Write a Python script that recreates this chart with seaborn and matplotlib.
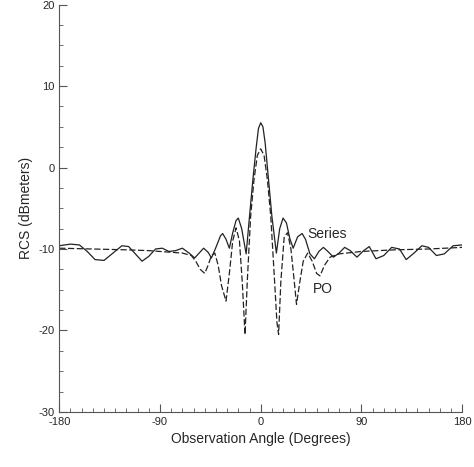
import numpy as np
import pandas as pd
import matplotlib
matplotlib.use("Agg")
import matplotlib.pyplot as plt
from matplotlib.ticker import MultipleLocator
import seaborn as sns

series_ang = [-180, -170, -162, -155, -148, -140, -132, -124, -118, -112, -106, -100, -94, -88,
              -82, -76, -70, -64, -59, -55, -51, -47, -44, -40, -36, -34, -31, -28, -25, -22,
              -20, -17, -13, -10, -7, -4, -2, 0, 2, 4, 7, 10, 14, 17, 20, 23, 26, 29, 33, 37,
              40, 44, 48, 52, 56, 60, 65, 70, 75, 80, 86, 92, 97, 103, 110, 117, 124, 130,
              137, 144, 150, 157, 164, 172, 180]
series_db = [-9.6, -9.4, -9.5, -10.3, -11.3, -11.4, -10.5, -9.6, -9.7, -10.6, -11.5, -10.9, -10.0, -9.9,
             -10.3, -10.2, -9.9, -10.5, -11.1, -10.5, -9.9, -10.4, -11.1, -9.8, -8.4, -8.1, -8.8, -9.9, -8.0, -6.5,
             -6.2, -7.5, -10.6, -6.0, -1.5, 2.5, 4.8, 5.5, 5.0, 3.0, -1.5, -6.0, -10.5, -7.5, -6.2, -6.8, -8.7, -9.9, -8.5, -8.1,
             -8.8, -10.6, -11.2, -10.3, -9.8, -10.3, -11.0, -10.5, -9.8, -10.2, -11.0, -10.2, -9.7, -11.2, -10.8, -9.8, -10.0, -11.3,
             -10.5, -9.6, -9.8, -10.8, -10.6, -9.6, -9.5]

po_ang = [-180, -150, -120, -100, -80, -70, -62, -58, -54, -50, -47, -44, -41, -38, -35, -31, -28,
          -25, -22, -19, -16.5, -14, -12, -9, -6, -3, 0, 3, 6, 9, 12, 14.5, 16, 18, 21, 24, 27,
          30, 32, 35, 38, 42, 46, 50, 53, 57, 62, 70, 90, 120, 150, 180]
po_db = [-9.9, -10.0, -10.1, -10.2, -10.4, -10.5, -10.8, -11.5, -12.5, -13.0, -12.0, -10.8, -10.5, -12.0, -14.5, -16.4, -13.0,
         -9.0, -7.4, -9.0, -14.0, -20.5, -14.0, -6.0, -1.5, 1.5, 2.3, 1.5, -1.5, -6.0, -13.0, -19.0, -20.5, -14.0, -8.5, -8.0, -10.0,
         -14.0, -16.8, -14.0, -11.5, -10.5, -11.5, -13.0, -13.3, -12.0, -11.0, -10.6, -10.3, -10.1, -10.0, -9.8]

sns.set_style("white")
plt.rcParams['font.family'] = ['Liberation Sans', 'DejaVu Sans']
plt.rcParams['axes.unicode_minus'] = False

fig, ax = plt.subplots(figsize=(4.74, 4.67), dpi=100)
sns.lineplot(x=series_ang, y=series_db, ax=ax, color="#222222", lw=0.9, sort=False)
sns.lineplot(x=po_ang, y=po_db, ax=ax, color="#222222", lw=0.9, sort=False, linestyle=(0, (5, 2)))

ax.text(42, -8.6, "Series", fontsize=10)
ax.text(47, -15.4, "PO", fontsize=10)

ax.set_xlim(-180, 180)
ax.set_ylim(-30, 20)
ax.set_xticks([-180, -90, 0, 90, 180])
ax.set_yticks([-30, -20, -10, 0, 10, 20])
ax.xaxis.set_minor_locator(MultipleLocator(10))
ax.yaxis.set_minor_locator(MultipleLocator(2.5))
ax.tick_params(direction="in", which="both", labelsize=8, color="#555555", bottom=True, left=True)
ax.tick_params(which="major", length=6)
ax.tick_params(which="minor", length=3)
for s in ["top", "right"]:
    ax.spines[s].set_visible(False)
for s in ["left", "bottom"]:
    ax.spines[s].set_color("#555555")
ax.set_xlabel("Observation Angle (Degrees)", fontsize=10)
ax.set_ylabel("RCS (dBmeters)", fontsize=10)

fig.subplots_adjust(left=0.125, right=0.975, bottom=0.118, top=0.99)
fig.savefig("out.png", dpi=100)
